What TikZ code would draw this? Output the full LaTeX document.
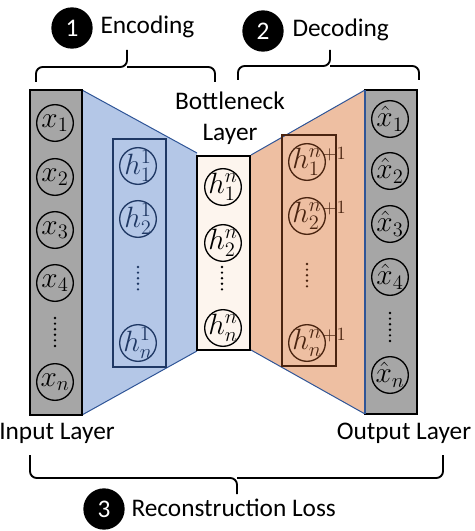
\RequirePackage{fix-cm}
\documentclass[tikz,border=0pt]{standalone}
\usepackage{fontspec}
\setmainfont{Carlito}

\definecolor{grayfill}{HTML}{A6A6A6}
\definecolor{bluefill}{HTML}{B4C7E7}
\definecolor{peachfill}{HTML}{EEBFA2}
\definecolor{neckfill}{HTML}{FDF5EE}
\definecolor{navy}{HTML}{1F3864}
\definecolor{edgeblue}{HTML}{2F5597}
\definecolor{brn}{HTML}{4A2410}

\tikzset{every picture/.style={line width=0.75pt}}
\tikzset{
  unit/.style={circle, draw, line width=1pt, inner sep=-2pt, minimum size=27.5pt, font=\fontsize{22}{22}\selectfont},
  encunit/.style={unit, draw=navy, text=navy},
  decunit/.style={unit, draw=brn, text=brn, label={[inner sep=0pt, xshift=-3pt, yshift=6pt, text=brn, font=\fontsize{14}{14}\selectfont]east:$+1$}},
  numbadge/.style={circle, fill=black, text=white, inner sep=0pt, minimum size=31pt, font=\fontsize{19}{19}\selectfont},
  caption/.style={inner sep=0pt, font=\fontsize{19}{23}\selectfont},
  brc/.style={line width=1.4pt, rounded corners=5pt},
  vdots/.style={line width=2pt, line cap=round, dash pattern={on 0pt off 4.2pt}},
}

\begin{document}
\begin{tikzpicture}[x=0.75pt,y=0.75pt,yscale=-1,xscale=1]
\useasboundingbox (0,0) rectangle (474,531);

%Shape: Trapezoid (encoder)
\fill [bluefill] (82,90) -- (197,153) -- (197,351) -- (82,415) -- cycle;
\draw [edgeblue] (82,90) -- (197,153) (197,351) -- (82,415);
%Shape: Trapezoid (decoder)
\fill [peachfill] (251,155) -- (365,90) -- (365,414) -- (251,350) -- cycle;
\draw [edgeblue] (251,155) -- (365,90) (251,350) -- (365,414);

%Shape: Rectangle (input layer)
\draw [fill=grayfill, line width=1pt] (30,90) rectangle (82,415);
%Shape: Rectangle (output layer)
\draw [fill=grayfill, line width=1pt] (365,90) rectangle (417,414);
\draw [edgeblue, line width=1pt] (365,90) -- (365,414);
%Shape: Rectangle (hidden encoder)
\draw [navy, line width=1.1pt] (113,139) rectangle (166,367);
%Shape: Rectangle (hidden decoder)
\draw [brn, line width=1.1pt] (282,135) rectangle (336,366);
%Shape: Rectangle (bottleneck)
\draw [fill=neckfill, line width=1.1pt] (197,156) rectangle (250,350);

% Input units
\node [unit] (x1) at (55,123) {$x_1$};
\node [unit] (x2) at (55,177) {$x_2$};
\node [unit] (x3) at (55,230) {$x_3$};
\node [unit] (x4) at (55,283) {$x_4$};
\node [unit] (xn) at (55,382) {$x_n$};
\draw [vdots] (55,318) -- (55,346);

% Encoder units
\node [encunit] (e1) at (138,166) {$h_1^1$};
\node [encunit] (e2) at (138,219) {$h_2^1$};
\node [encunit] (en) at (138,343) {$h_n^1$};
\draw [vdots, navy] (138,267) -- (138,294);

% Bottleneck units
\node [unit] (b1) at (223,187) {$h_1^n$};
\node [unit] (b2) at (223,243) {$h_2^n$};
\node [unit] (bn) at (223,328) {$h_n^n$};
\draw [vdots] (222,267) -- (222,294);

% Decoder units
\node [decunit] (d1) at (307,162) {$h_1^n$};
\node [decunit] (d2) at (307,216) {$h_2^n$};
\node [decunit] (dn) at (307,343) {$h_n^n$};
\draw [vdots, brn] (307,264) -- (307,291);

% Output units
\node [unit] (y1) at (390,119) {$\hat{x}_1$};
\node [unit] (y2) at (390,171) {$\hat{x}_2$};
\node [unit] (y3) at (390,224) {$\hat{x}_3$};
\node [unit] (y4) at (390,277) {$\hat{x}_4$};
\node [unit] (yn) at (390,375) {$\hat{x}_n$};
\draw [vdots] (390,313) -- (390,341);

% Text Node
\node [caption, align=center] (neck) at (230,118) {Bottleneck\\Layer};
\node [caption] (inlbl) at (57,433) {Input Layer};
\node [caption] (outlbl) at (404,433) {Output Layer};

% Badges
\node [numbadge] (n1) at (72,28) {1};
\node [caption, anchor=west] (enc) at (100,27) {Encoding};
\node [numbadge] (n2) at (263,31) {2};
\node [caption, anchor=west] (dec) at (292,30) {Decoding};
\node [numbadge] (n3) at (104,509) {3};
\node [caption, anchor=west] (loss) at (131,508) {Reconstruction Loss};

%Braces
\draw [brc] (36,82) |- (127,67) -- (127,50);
\draw [brc] (215,82) |- (127,67);
\draw [brc] (238,80) |- (330,66) -- (330,50);
\draw [brc] (419,80) |- (330,66);
\draw [brc] (30,455) |- (237,478) -- (237,494);
\draw [brc] (443,455) |- (237,478);

\end{tikzpicture}
\end{document}
